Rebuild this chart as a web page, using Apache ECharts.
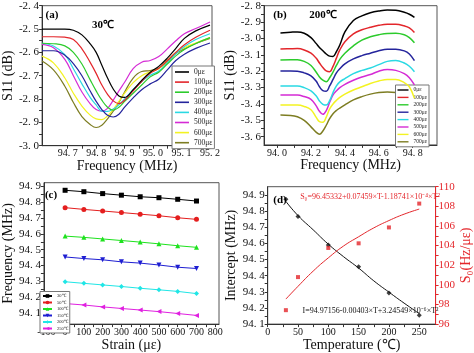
<!DOCTYPE html>
<html>
<head>
<meta charset="utf-8">
<script src="https://cdn.jsdelivr.net/npm/echarts@6/dist/echarts.min.js"></script>
<style>
html, body { margin: 0; padding: 0; background: #fff; }
#chart { width: 474px; height: 353px; }
</style>
</head>
<body>
<div id="chart"></div>
<script>
// (a) S11 spectra at 30 C
const A_FREQ = [94.61, 94.65, 94.69, 94.72, 94.75, 94.78, 94.80, 94.82, 94.84, 94.86, 94.88, 94.90, 94.93, 94.96, 94.99, 95.02, 95.05, 95.08, 95.11, 95.15, 95.20];
const A_0   = [-2.500, -2.500, -2.500, -2.505, -2.525, -2.565, -2.600, -2.655, -2.710, -2.757, -2.787, -2.793, -2.760, -2.720, -2.685, -2.660, -2.625, -2.583, -2.540, -2.508, -2.483];
const A_100 = [-2.533, -2.533, -2.535, -2.545, -2.585, -2.645, -2.690, -2.740, -2.780, -2.808, -2.820, -2.805, -2.765, -2.725, -2.690, -2.668, -2.635, -2.600, -2.567, -2.535, -2.505];
const A_200 = [-2.561, -2.563, -2.572, -2.600, -2.650, -2.720, -2.765, -2.805, -2.835, -2.848, -2.835, -2.810, -2.775, -2.740, -2.705, -2.685, -2.650, -2.615, -2.588, -2.562, -2.537];
const A_300 = [-2.593, -2.593, -2.612, -2.648, -2.700, -2.768, -2.810, -2.845, -2.870, -2.877, -2.865, -2.835, -2.795, -2.760, -2.735, -2.715, -2.675, -2.635, -2.608, -2.583, -2.560];
const A_400 = [-2.561, -2.573, -2.610, -2.670, -2.735, -2.795, -2.825, -2.852, -2.853, -2.843, -2.825, -2.800, -2.760, -2.725, -2.698, -2.680, -2.645, -2.605, -2.575, -2.545, -2.520];
const A_500 = [-2.566, -2.580, -2.630, -2.700, -2.770, -2.822, -2.845, -2.852, -2.840, -2.805, -2.765, -2.728, -2.670, -2.642, -2.635, -2.618, -2.585, -2.550, -2.520, -2.498, -2.470];
const A_600 = [-2.616, -2.645, -2.710, -2.775, -2.830, -2.870, -2.885, -2.888, -2.872, -2.845, -2.810, -2.775, -2.730, -2.700, -2.683, -2.670, -2.635, -2.600, -2.580, -2.560, -2.537];
const A_700 = [-2.637, -2.675, -2.745, -2.815, -2.875, -2.910, -2.922, -2.912, -2.885, -2.852, -2.815, -2.770, -2.710, -2.682, -2.678, -2.668, -2.638, -2.605, -2.585, -2.562, -2.540];

// (b) S11 spectra at 200 C
const B_FREQ = [94.02, 94.08, 94.12, 94.16, 94.20, 94.23, 94.25, 94.27, 94.29, 94.31, 94.33, 94.35, 94.37, 94.40, 94.45, 94.50, 94.55, 94.60, 94.65, 94.70, 94.75, 94.78, 94.81];
const B_0   = [-2.966, -2.962, -2.960, -2.968, -2.995, -3.030, -3.055, -3.075, -3.095, -3.108, -3.110, -3.080, -3.040, -2.960, -2.890, -2.862, -2.843, -2.832, -2.826, -2.828, -2.840, -2.852, -2.871];
const B_100 = [-3.065, -3.063, -3.062, -3.070, -3.090, -3.120, -3.150, -3.178, -3.198, -3.203, -3.170, -3.120, -3.070, -3.020, -2.972, -2.947, -2.932, -2.920, -2.914, -2.914, -2.923, -2.935, -2.963];
const B_200 = [-3.132, -3.130, -3.130, -3.140, -3.165, -3.205, -3.235, -3.255, -3.264, -3.240, -3.205, -3.165, -3.128, -3.090, -3.045, -3.010, -2.990, -2.977, -2.969, -2.968, -2.977, -2.995, -3.026];
const B_300 = [-3.199, -3.199, -3.200, -3.210, -3.228, -3.260, -3.295, -3.318, -3.322, -3.290, -3.250, -3.210, -3.185, -3.155, -3.125, -3.105, -3.090, -3.075, -3.066, -3.066, -3.076, -3.095, -3.136];
const B_400 = [-3.290, -3.290, -3.290, -3.300, -3.320, -3.350, -3.382, -3.402, -3.407, -3.380, -3.330, -3.290, -3.265, -3.245, -3.215, -3.195, -3.180, -3.160, -3.140, -3.135, -3.150, -3.170, -3.203];
const B_500 = [-3.346, -3.346, -3.346, -3.355, -3.372, -3.410, -3.445, -3.463, -3.440, -3.390, -3.345, -3.320, -3.300, -3.280, -3.255, -3.235, -3.220, -3.200, -3.190, -3.195, -3.215, -3.240, -3.284];
const B_600 = [-3.407, -3.407, -3.407, -3.415, -3.435, -3.480, -3.508, -3.512, -3.480, -3.430, -3.400, -3.378, -3.360, -3.340, -3.315, -3.295, -3.275, -3.260, -3.250, -3.250, -3.270, -3.295, -3.366];
const B_700 = [-3.468, -3.470, -3.478, -3.500, -3.540, -3.572, -3.585, -3.565, -3.530, -3.490, -3.460, -3.440, -3.425, -3.405, -3.375, -3.355, -3.340, -3.330, -3.327, -3.330, -3.345, -3.360, -3.380];

const STRAIN_NAMES = ["0με", "100με", "200με", "300με", "400με", "500με", "600με", "700με"];
const SPECTRUM_COLORS = ["#000000", "#e3262b", "#2ccb2c", "#24249c", "#2ad9e3", "#d52bd5", "#f3f322", "#7d7d22"];

// (c) resonant frequency vs strain
const STRAIN = [0, 100, 200, 300, 400, 500, 600, 700];
const C_30  = [94.876, 94.867, 94.855, 94.845, 94.835, 94.829, 94.819, 94.808];
const C_50  = [94.766, 94.755, 94.745, 94.735, 94.725, 94.715, 94.702, 94.692];
const C_100 = [94.586, 94.578, 94.568, 94.558, 94.548, 94.537, 94.525, 94.515];
const C_150 = [94.454, 94.444, 94.436, 94.423, 94.415, 94.403, 94.389, 94.381];
const C_200 = [94.297, 94.287, 94.277, 94.267, 94.256, 94.246, 94.236, 94.222];
const C_250 = [94.159, 94.150, 94.138, 94.128, 94.118, 94.108, 94.096, 94.084];
const TEMP_NAMES = ["30℃", "50℃", "100℃", "150℃", "200℃", "250℃"];
const TEMP_COLORS = ["#000000", "#e41e1e", "#1ee21e", "#1e1ed2", "#20e6e6", "#e020e0"];

// (d) intercept and sensitivity vs temperature
const TEMP = [30, 50, 100, 150, 200, 250];
const INTERCEPT = [94.873, 94.767, 94.590, 94.455, 94.293, 94.155];
const SENS = [97.42, 100.79, 103.76, 104.23, 105.85, 108.28];
const FIT_TEMP = [30, 50, 75, 100, 125, 150, 175, 200, 225, 250];
const FIT_INTERCEPT = [94.860, 94.772, 94.684, 94.595, 94.518, 94.447, 94.368, 94.298, 94.230, 94.165];
const FIT_SENS = [98.55, 99.85, 101.40, 102.75, 103.95, 104.90, 105.80, 106.55, 107.20, 107.72];

// tick labels
const A_X_TICKS = [94.7, 94.8, 94.9, 95.0, 95.1, 95.2];
const A_Y_TICKS = [-3.0, -2.9, -2.8, -2.7, -2.6, -2.5, -2.4];
const B_X_TICKS = [94.0, 94.2, 94.4, 94.6, 94.8];
const B_Y_TICKS = [-3.6, -3.5, -3.4, -3.3, -3.2, -3.1, -3.0, -2.9, -2.8];
const C_X_TICKS = [-100, 0, 100, 200, 300, 400, 500, 600, 700, 800];
const C_Y_TICKS = [94.1, 94.2, 94.3, 94.4, 94.5, 94.6, 94.7, 94.8, 94.9];
const D_X_TICKS = [0, 50, 100, 150, 200, 250];
const D_Y_TICKS = [94.1, 94.2, 94.3, 94.4, 94.5, 94.6, 94.7, 94.8, 94.9];
const D_Y2_TICKS = [96, 98, 100, 102, 104, 106, 108, 110];

const FONT = "'Liberation Serif', 'Times New Roman', serif";
const RED = "#e4262b";

const withMinor = (ticks, step) => {
  const out = [];
  ticks.forEach((t, i) => {
    out.push(t);
    if (i < ticks.length - 1) out.push(+(t + step / 2).toFixed(4));
  });
  return out;
};

const oneDecimal = (v) => v.toFixed(1).replace(".", ". ");

const buildAxis = ({ grid, min, max, ticks, step, formatter, name, nameGap, rotate, position, color, labelSize }) => ({
  type: "value",
  gridIndex: grid,
  min,
  max,
  position,
  name,
  nameLocation: "middle",
  nameGap,
  nameRotate: rotate,
  nameTextStyle: { fontFamily: FONT, fontSize: 14, color: color || "#111" },
  axisLine: { show: true, onZero: false, lineStyle: { color: color || "#333", width: 1 } },
  axisTick: { show: true, length: 3, customValues: withMinor(ticks, step), lineStyle: { color: color || "#333" } },
  axisLabel: {
    customValues: ticks,
    margin: 3,
    fontFamily: FONT,
    fontSize: labelSize || 11,
    color: color || "#111",
    formatter: formatter || ((v) => String(v)),
  },
  splitLine: { show: false },
});

const spectrumSeries = (freq, rows, axisIndex, width) =>
  rows.map((row, k) => ({
    name: STRAIN_NAMES[k],
    type: "line",
    xAxisIndex: axisIndex,
    yAxisIndex: axisIndex,
    smooth: 0.4,
    symbol: "none",
    color: SPECTRUM_COLORS[k],
    lineStyle: { width, color: SPECTRUM_COLORS[k] },
    data: freq.map((f, i) => [f, row[i]]),
    z: 10 - k,
  }));

const C_SYMBOLS = [
  { symbol: "rect", rotate: 0 },
  { symbol: "circle", rotate: 0 },
  { symbol: "triangle", rotate: 0 },
  { symbol: "triangle", rotate: 180 },
  { symbol: "diamond", rotate: 0 },
  { symbol: "triangle", rotate: 90 },
];

const strainSeries = [C_30, C_50, C_100, C_150, C_200, C_250].map((row, k) => ({
  name: TEMP_NAMES[k],
  type: "line",
  xAxisIndex: 2,
  yAxisIndex: 2,
  symbol: C_SYMBOLS[k].symbol,
  symbolRotate: C_SYMBOLS[k].rotate,
  symbolSize: 5,
  color: TEMP_COLORS[k],
  lineStyle: { width: 1, color: TEMP_COLORS[k] },
  itemStyle: { color: TEMP_COLORS[k] },
  data: STRAIN.map((s, i) => [s, row[i]]),
}));

const legendBase = {
  orient: "vertical",
  selectedMode: false,
  backgroundColor: "#fff",
  borderColor: "#777",
  borderWidth: 1,
  borderRadius: 0,
};

const textAt = (x, y, text, size, color, weight) => ({
  type: "text",
  x,
  y,
  z: 100,
  style: {
    text,
    fill: color || "#000",
    font: `${weight || "normal"} ${size}px ${FONT}`,
    textAlign: "center",
    textVerticalAlign: "middle",
    align: "center",
    verticalAlign: "middle",
  },
});

const option = {
  backgroundColor: "#fff",
  animation: false,
  grid: [
    { left: 39, top: 5.7, width: 173, height: 140 },
    { left: 264, top: 5.7, width: 173, height: 139.2 },
    { left: 39, top: 182.7, width: 180, height: 146.6 },
    { left: 267.7, top: 186.7, width: 172, height: 138.3 },
  ].map((g) => ({ ...g, show: true, borderColor: "#555", borderWidth: 1, containLabel: false })),
  xAxis: [
    buildAxis({ grid: 0, min: 94.61, max: 95.207, ticks: A_X_TICKS, step: 0.1, formatter: oneDecimal, name: "Frequency (MHz)", nameGap: 12, labelSize: 10 }),
    buildAxis({ grid: 1, min: 93.923, max: 94.943, ticks: B_X_TICKS, step: 0.2, formatter: oneDecimal, name: "Frequency (MHz)", nameGap: 12, labelSize: 10 }),
    buildAxis({ grid: 2, min: -113, max: 820, ticks: C_X_TICKS, step: 100, name: "Strain (με)", nameGap: 10, labelSize: 10 }),
    buildAxis({ grid: 3, min: 0, max: 277, ticks: D_X_TICKS, step: 50, name: "Temperature (℃)", nameGap: 10, labelSize: 10 }),
  ],
  yAxis: [
    buildAxis({ grid: 0, min: -3.0, max: -2.4, ticks: A_Y_TICKS, step: 0.1, formatter: oneDecimal, name: "S11 (dB)", nameGap: 22, rotate: 90 }),
    buildAxis({ grid: 1, min: -3.65, max: -2.8, ticks: B_Y_TICKS, step: 0.1, formatter: oneDecimal, name: "S11 (dB)", nameGap: 24, rotate: 90 }),
    buildAxis({ grid: 2, min: 94.029, max: 94.924, ticks: C_Y_TICKS, step: 0.1, formatter: oneDecimal, name: "Frequency (MHz)", nameGap: 20, rotate: 90 }),
    buildAxis({ grid: 3, min: 94.1, max: 94.951, ticks: D_Y_TICKS, step: 0.1, formatter: oneDecimal, name: "Intercept (MHz)", nameGap: 24, rotate: 90, position: "left" }),
    buildAxis({ grid: 3, min: 96, max: 110, ticks: D_Y2_TICKS, step: 2, name: "S₀(Hz/με)", nameGap: 23, rotate: 90, position: "right", color: RED }),
  ],
  legend: [
    {
      ...legendBase,
      data: STRAIN_NAMES,
      left: 172,
      top: 66,
      padding: [2, 2, 2, 3],
      icon: "rect",
      itemWidth: 14,
      itemHeight: 1.6,
      itemGap: 2.1,
      textStyle: { fontFamily: FONT, fontSize: 7.5, color: "#222" },
    },
    {
      ...legendBase,
      data: STRAIN_NAMES,
      left: 395.5,
      top: 85,
      padding: [2, 2, 2, 2],
      icon: "rect",
      itemWidth: 11,
      itemHeight: 1.4,
      itemGap: 1.4,
      textStyle: { fontFamily: FONT, fontSize: 5.5, color: "#222" },
    },
    {
      ...legendBase,
      data: TEMP_NAMES,
      left: 40,
      top: 291.5,
      padding: [2, 2, 2, 2],
      itemWidth: 9,
      itemHeight: 4.5,
      itemGap: 1.5,
      textStyle: { fontFamily: FONT, fontSize: 4.5, color: "#222" },
    },
  ],
  graphic: [
    textAt(52, 15, "(a)", 11, "#000", "bold"),
    textAt(103, 25, "30℃", 11, "#000", "bold"),
    textAt(280, 15, "(b)", 11, "#000", "bold"),
    textAt(323, 15, "200℃", 11, "#000", "bold"),
    textAt(51, 195, "(c)", 11, "#000", "bold"),
    textAt(280, 200, "(d)", 11, "#000", "bold"),
    textAt(370, 197, "S₀=96.45332+0.07459×T-1.18741×10⁻⁴×T²", 8, RED),
    textAt(370.5, 311, "I=94.97156-0.00403×T+3.24549×10⁻⁶×T²", 8, "#111"),
  ],
  series: [
    ...spectrumSeries(A_FREQ, [A_0, A_100, A_200, A_300, A_400, A_500, A_600, A_700], 0, 1.2),
    ...spectrumSeries(B_FREQ, [B_0, B_100, B_200, B_300, B_400, B_500, B_600, B_700], 1, 1.5),
    ...strainSeries,
    {
      name: "Intercept fit",
      type: "line",
      xAxisIndex: 3,
      yAxisIndex: 3,
      smooth: true,
      symbol: "none",
      lineStyle: { width: 1, color: "#111" },
      data: FIT_TEMP.map((t, i) => [t, FIT_INTERCEPT[i]]),
    },
    {
      name: "Sensitivity fit",
      type: "line",
      xAxisIndex: 3,
      yAxisIndex: 4,
      smooth: true,
      symbol: "none",
      lineStyle: { width: 1, color: RED },
      data: FIT_TEMP.map((t, i) => [t, FIT_SENS[i]]),
    },
    {
      name: "Intercept",
      type: "scatter",
      xAxisIndex: 3,
      yAxisIndex: 3,
      symbol: "diamond",
      symbolSize: 5,
      itemStyle: { color: "#111" },
      data: TEMP.map((t, i) => [t, INTERCEPT[i]]),
    },
    {
      name: "Sensitivity",
      type: "scatter",
      xAxisIndex: 3,
      yAxisIndex: 4,
      symbol: "rect",
      symbolSize: 4,
      itemStyle: { color: RED },
      data: TEMP.map((t, i) => [t, SENS[i]]),
    },
  ],
};

const chart = echarts.init(document.getElementById("chart"), null, { renderer: "canvas" });
chart.setOption(option);
</script>
</body>
</html>
